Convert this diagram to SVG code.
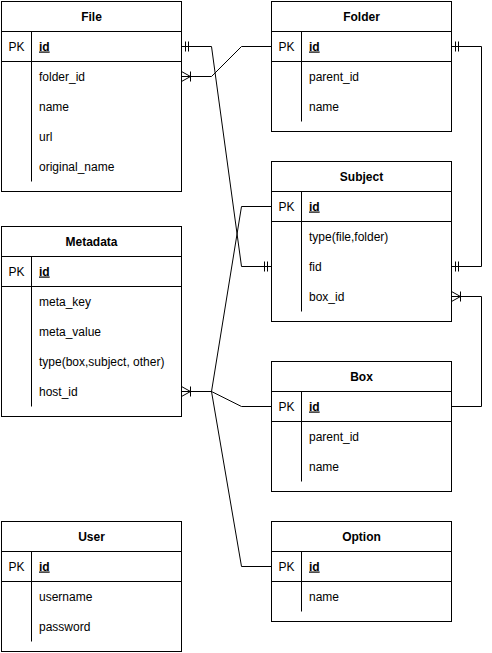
<svg xmlns="http://www.w3.org/2000/svg" width="492" height="653" viewBox="0 0 492 653">
<style>
.box{fill:#fff;stroke:#000;stroke-width:1}
.ln{fill:none;stroke:#000;stroke-width:1}
text{font-family:"Liberation Sans",Arial,sans-serif;font-size:12px;fill:#000}
.t{font-weight:bold;text-anchor:middle}
.pk{text-anchor:middle}
.key{font-weight:bold;text-decoration:underline}
.cn{fill:none;stroke:#000;stroke-width:1}
</style>
<defs>
<marker id="many" markerUnits="userSpaceOnUse" orient="auto-start-reverse" refX="0" refY="0" markerWidth="20" markerHeight="20" overflow="visible">
<path d="M0,-5 L-9,0 L0,5 M-9,-5 L-9,5" fill="none" stroke="#000" stroke-width="1"/>
</marker>
<marker id="one" markerUnits="userSpaceOnUse" orient="auto-start-reverse" refX="0" refY="0" markerWidth="20" markerHeight="20" overflow="visible">
<path d="M-4,-5 L-4,5 M-7,-5 L-7,5" fill="none" stroke="#000" stroke-width="1"/>
</marker>
</defs>

<g id="connectors">
<path class="cn" d="M181.5,76.5 L211.5,76.5 L241.5,46.5 L271.5,46.5" marker-start="url(#many)"/>
<path class="cn" d="M181.5,46.5 L211.5,46.5 L241.5,266.5 L271.5,266.5" marker-start="url(#one)" marker-end="url(#one)"/>
<path class="cn" d="M451.5,46.5 L481.5,46.5 L481.5,266.5 L451.5,266.5" marker-start="url(#one)" marker-end="url(#one)"/>
<path class="cn" d="M451.5,406.5 L481.5,406.5 L481.5,296.5 L451.5,296.5" marker-end="url(#many)"/>
<path class="cn" d="M181.5,391.5 L211.5,391.5 L241.5,206.5 L271.5,206.5" marker-start="url(#many)"/>
<path class="cn" d="M181.5,391.5 L211.5,391.5 L241.5,406.5 L271.5,406.5"/>
<path class="cn" d="M181.5,391.5 L211.5,391.5 L241.5,566.5 L271.5,566.5"/>
</g>

<g id="File">
<rect class="box" x="1.5" y="1.5" width="180" height="190"/>
<path class="ln" d="M1.5,31.5 H181.5 M1.5,61.5 H181.5 M31.5,31.5 V181.5"/>
<text class="t" x="91.5" y="20.5">File</text>
<text class="pk" x="16.5" y="50.5">PK</text>
<text class="key" x="39" y="50.5">id</text>
<text x="39" y="80.5">folder_id</text>
<text x="39" y="110.5">name</text>
<text x="39" y="140.5">url</text>
<text x="39" y="170.5">original_name</text>
</g>

<g id="Folder">
<rect class="box" x="271.5" y="1.5" width="180" height="130"/>
<path class="ln" d="M271.5,31.5 H451.5 M271.5,61.5 H451.5 M301.5,31.5 V121.5"/>
<text class="t" x="361.5" y="20.5">Folder</text>
<text class="pk" x="286.5" y="50.5">PK</text>
<text class="key" x="309" y="50.5">id</text>
<text x="309" y="80.5">parent_id</text>
<text x="309" y="110.5">name</text>
</g>

<g id="Subject">
<rect class="box" x="271.5" y="161.5" width="180" height="160"/>
<path class="ln" d="M271.5,191.5 H451.5 M271.5,221.5 H451.5 M301.5,191.5 V311.5"/>
<text class="t" x="361.5" y="180.5">Subject</text>
<text class="pk" x="286.5" y="210.5">PK</text>
<text class="key" x="309" y="210.5">id</text>
<text x="309" y="240.5">type(file,folder)</text>
<text x="309" y="270.5">fid</text>
<text x="309" y="300.5">box_id</text>
</g>

<g id="Metadata">
<rect class="box" x="1.5" y="226.5" width="180" height="190"/>
<path class="ln" d="M1.5,256.5 H181.5 M1.5,286.5 H181.5 M31.5,256.5 V406.5"/>
<text class="t" x="91.5" y="245.5">Metadata</text>
<text class="pk" x="16.5" y="275.5">PK</text>
<text class="key" x="39" y="275.5">id</text>
<text x="39" y="305.5">meta_key</text>
<text x="39" y="335.5">meta_value</text>
<text x="39" y="365.5">type(box,subject, other)</text>
<text x="39" y="395.5">host_id</text>
</g>

<g id="Box">
<rect class="box" x="271.5" y="361.5" width="180" height="130"/>
<path class="ln" d="M271.5,391.5 H451.5 M271.5,421.5 H451.5 M301.5,391.5 V481.5"/>
<text class="t" x="361.5" y="380.5">Box</text>
<text class="pk" x="286.5" y="410.5">PK</text>
<text class="key" x="309" y="410.5">id</text>
<text x="309" y="440.5">parent_id</text>
<text x="309" y="470.5">name</text>
</g>

<g id="User">
<rect class="box" x="1.5" y="521.5" width="180" height="130"/>
<path class="ln" d="M1.5,551.5 H181.5 M1.5,581.5 H181.5 M31.5,551.5 V641.5"/>
<text class="t" x="91.5" y="540.5">User</text>
<text class="pk" x="16.5" y="570.5">PK</text>
<text class="key" x="39" y="570.5">id</text>
<text x="39" y="600.5">username</text>
<text x="39" y="630.5">password</text>
</g>

<g id="Option">
<rect class="box" x="271.5" y="521.5" width="180" height="100"/>
<path class="ln" d="M271.5,551.5 H451.5 M271.5,581.5 H451.5 M301.5,551.5 V611.5"/>
<text class="t" x="361.5" y="540.5">Option</text>
<text class="pk" x="286.5" y="570.5">PK</text>
<text class="key" x="309" y="570.5">id</text>
<text x="309" y="600.5">name</text>
</g>
</svg>
